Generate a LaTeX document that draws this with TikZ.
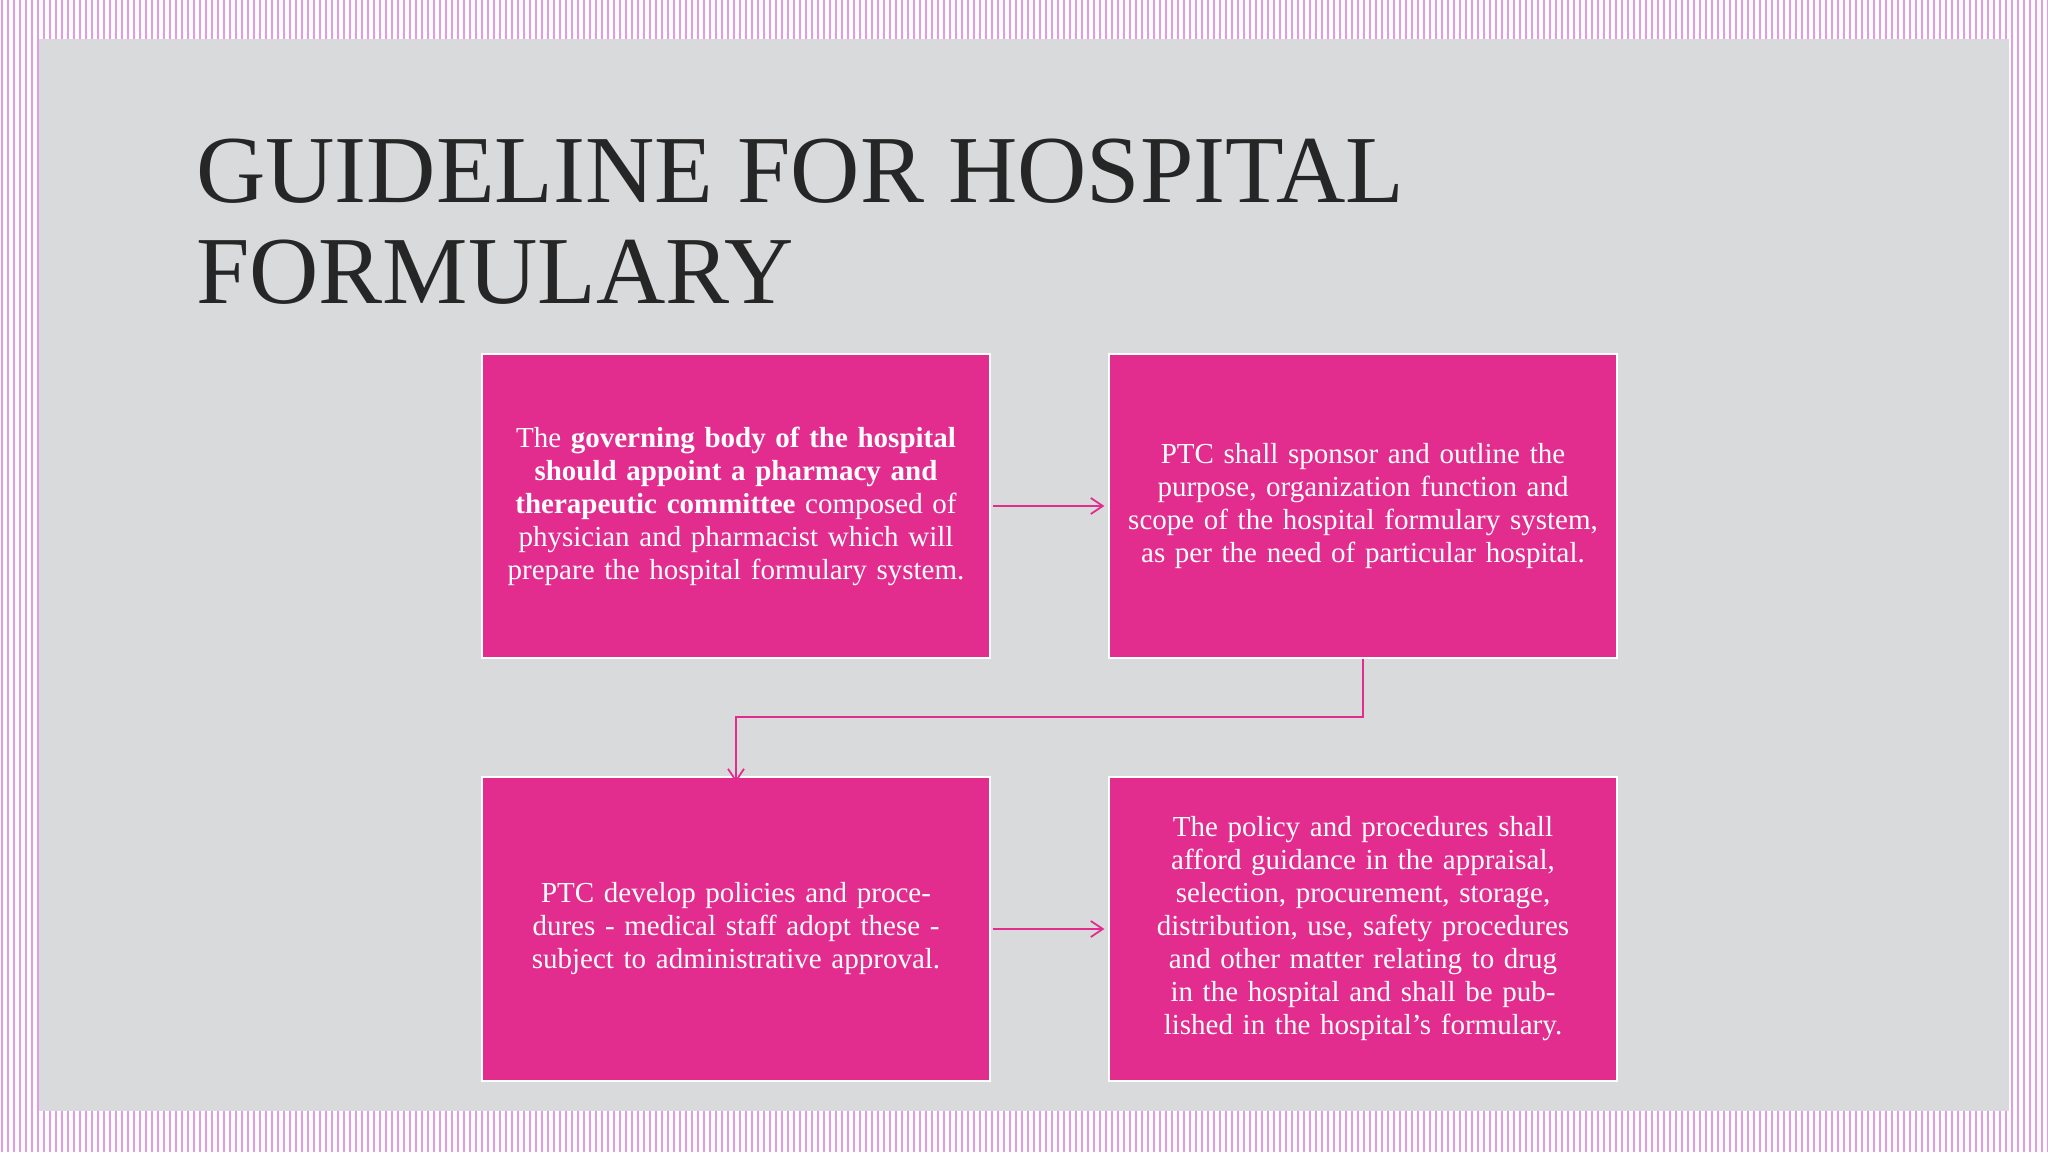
\documentclass[tikz,border=0pt]{standalone}
\usepackage{fontspec}
\setmainfont{Liberation Serif}
\usetikzlibrary{arrows.meta}
\definecolor{bgpink}{HTML}{E39BE3}
\definecolor{panel}{HTML}{D9DADB}
\definecolor{boxpink}{HTML}{E22D8F}
\definecolor{titlec}{HTML}{262626}
\tikzset{
  pbox/.style={draw=white, line width=1.2pt, fill=boxpink, minimum width=508pt, minimum height=304pt, text width=470pt, align=center, text=white, font=\fontsize{29}{33}\selectfont, inner sep=0pt},
  conn/.style={draw=boxpink, line width=1.8pt, -{Straight Barb[length=12pt,width=16pt,line width=1.8pt]}}
}
\begin{document}
\begin{tikzpicture}[x=1pt,y=-1pt]
\useasboundingbox (0,0) rectangle (2048,1152);
\fill[white] (0,0) rectangle (2048,1152);
\foreach \i in {0,...,341} { \fill[bgpink] ({\i*6+1},0) rectangle ({\i*6+3},1152); }
\fill[panel] (39,39) rectangle (2009,1111);
\node[anchor=base west, text=titlec, font=\fontsize{96}{101}\selectfont, inner sep=0pt] (t1) at (196,202) {GUIDELINE FOR HOSPITAL};
\node[anchor=base west, text=titlec, font=\fontsize{96}{101}\selectfont, inner sep=0pt] (t2) at (196,303) {FORMULARY};
\node[pbox] (b1) at (736,506) {The \textbf{governing body of the hospital should appoint a pharmacy and therapeutic committee} composed of physician and pharmacist which will prepare the hospital formulary system.};
\node[pbox] (b2) at (1363,506) {PTC shall sponsor and outline the purpose, organization function and scope of the hospital formulary system, as per the need of particular hospital.};
\node[pbox] (b3) at (736,929) {PTC develop policies and procedures - medical staff adopt these - subject to administrative approval.};
\node[pbox] (b4) at (1363,929) {The policy and procedures shall afford guidance in the appraisal, selection, procurement, storage, distribution, use, safety procedures and other matter relating to drug in the hospital and shall be published in the hospital’s formulary.};
\draw[conn] ([xshift=2pt]b1.east) -- ([xshift=-4pt]b2.west);
\draw[conn] ([xshift=2pt]b3.east) -- ([xshift=-4pt]b4.west);
\coordinate (m) at (1363,717);
\draw[conn] (b2.south) -- (m) -- (m -| b3.north) -- ([yshift=-6pt]b3.north);
\end{tikzpicture}
\end{document}
